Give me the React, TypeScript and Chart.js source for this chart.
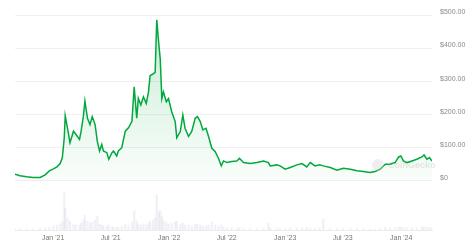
import React, { useEffect, useRef } from "react";
import { Chart, registerables } from "chart.js";

Chart.register(...registerables);

const priceDates: string[] = [
  "2020-09-03", "2020-09-19", "2020-10-10", "2020-10-30", "2020-11-21", "2020-12-07", "2020-12-20",
  "2021-01-02", "2021-01-13", "2021-01-23", "2021-01-30", "2021-02-05", "2021-02-08", "2021-02-15",
  "2021-02-23", "2021-03-06", "2021-03-14", "2021-03-25", "2021-03-30", "2021-04-06", "2021-04-11",
  "2021-04-19", "2021-04-27", "2021-05-04", "2021-05-13", "2021-05-20", "2021-05-27", "2021-06-03",
  "2021-06-08", "2021-06-19", "2021-06-25", "2021-07-05", "2021-07-10", "2021-07-20", "2021-07-25",
  "2021-08-05", "2021-08-16", "2021-08-26", "2021-09-06", "2021-09-13", "2021-09-21", "2021-09-26",
  "2021-10-04", "2021-10-12", "2021-10-21", "2021-10-28", "2021-11-02", "2021-11-11", "2021-11-18",
  "2021-11-23", "2021-11-30", "2021-12-04", "2021-12-09", "2021-12-14", "2021-12-23", "2021-12-30",
  "2022-01-09", "2022-01-20", "2022-01-25", "2022-02-05", "2022-02-13", "2022-02-20", "2022-03-03",
  "2022-03-13", "2022-03-24", "2022-03-31", "2022-04-09", "2022-04-17", "2022-04-27", "2022-05-05",
  "2022-05-15", "2022-05-26", "2022-06-05", "2022-06-14", "2022-06-21", "2022-07-02", "2022-07-17",
  "2022-08-02", "2022-08-10", "2022-08-23", "2022-09-13", "2022-10-04", "2022-10-25", "2022-11-09",
  "2022-11-15", "2022-12-06", "2022-12-16", "2023-01-01", "2023-01-17", "2023-02-07", "2023-02-23",
  "2023-03-10", "2023-03-21", "2023-04-05", "2023-04-19", "2023-05-01", "2023-05-23", "2023-06-13",
  "2023-07-03", "2023-07-25", "2023-08-15", "2023-09-04", "2023-09-25", "2023-10-11", "2023-10-27",
  "2023-11-12", "2023-11-27", "2023-12-13", "2023-12-24", "2023-12-31", "2024-01-08", "2024-01-19",
  "2024-02-04", "2024-02-19", "2024-03-06", "2024-03-13", "2024-03-22", "2024-03-30", "2024-04-07",
];

const prices: number[] = [
  20, 15, 12, 10, 10, 18, 30,
  36, 42, 52, 70, 130, 197, 160,
  115, 150, 140, 125, 150, 194, 241,
  189, 170, 194, 170, 119, 90, 110,
  90, 85, 65, 85, 90, 75, 90,
  100, 150, 160, 180, 284, 189, 249,
  229, 254, 234, 269, 318, 323, 328,
  487, 408, 368, 249, 269, 239, 249,
  209, 179, 130, 149, 199, 159, 134,
  149, 189, 194, 179, 154, 159, 134,
  99, 88, 68, 45, 60, 55, 58,
  60, 68, 55, 52, 55, 60, 55,
  45, 48, 45, 35, 40, 48, 52,
  42, 55, 45, 48, 45, 40, 32,
  38, 35, 30, 28, 25, 28, 35,
  50, 50, 55, 72, 75, 60, 55,
  60, 65, 72, 78, 65, 70, 60,
];

const volumes: number[] = [
  1, 1, 1, 1, 1.5, 2, 3,
  4, 5, 6, 9, 38, 22, 12,
  9, 6, 5, 5, 7, 10, 15,
  9, 7, 8, 10, 14, 6, 5,
  4, 4, 5, 3, 3, 3, 3,
  4, 6, 5, 8, 20, 9, 6,
  5, 6, 5, 7, 9, 10, 12,
  36, 18, 20, 14, 10, 8, 6,
  7, 8, 9, 6, 7, 5, 5,
  4, 6, 6, 5, 4, 4, 5,
  8, 5, 4, 5, 3, 2, 2,
  2, 2.5, 1.5, 1.5, 1.5, 1.5, 7,
  2, 1.5, 1.5, 1, 2, 2, 2,
  2.5, 2, 1.5, 2, 11, 1.5, 1.5,
  1.5, 1.5, 1.5, 1.5, 1, 1, 1.5,
  2.5, 2, 2.5, 3, 3, 2.5, 2,
  2, 2, 3, 3.5, 2.5, 2.5, 2,
];

const xTickDates: string[] = ["2021-01-01", "2021-07-01", "2022-01-01", "2022-07-01", "2023-01-01", "2023-07-01", "2024-01-01"];
const xTickLabels: string[] = ["Jan '21", "Jul '21", "Jan '22", "Jul '22", "Jan '23", "Jul '23", "Jan '24"];
const yTickValues: number[] = [0, 100, 200, 300, 400, 500];
const xRange: string[] = ["2020-09-03", "2024-04-07"];

const FONT = "'Liberation Sans', Arial, sans-serif";

const watermark = {
  id: "watermark",
  afterDatasetsDraw(chart: any) {
    const { ctx, chartArea } = chart;
    const cx = chartArea.right - 54;
    const cy = chartArea.bottom - 65;
    ctx.save();
    ctx.globalAlpha = 0.35;
    ctx.fillStyle = "#d0d0d0";
    ctx.beginPath();
    ctx.arc(cx, cy, 6, 0, Math.PI * 2);
    ctx.fill();
    ctx.fillStyle = "#bbbbbb";
    ctx.font = "bold 9px " + FONT;
    ctx.textBaseline = "middle";
    ctx.textAlign = "left";
    ctx.fillText("CoinGecko", cx + 10, cy + 1);
    ctx.restore();
  },
};

export default function App() {
  const ref = useRef<HTMLCanvasElement | null>(null);

  useEffect(() => {
    if (!ref.current) return;
    const xs = priceDates.map((d) => Date.parse(d));
    const chart = new Chart(ref.current, {
      type: "line",
      data: {
        datasets: [
          {
            type: "line",
            label: "Price",
            data: xs.map((x, i) => ({ x, y: prices[i] })),
            borderColor: "#00a83e",
            borderWidth: 1.5,
            pointRadius: 0,
            tension: 0,
            yAxisID: "y",
            fill: "origin",
            backgroundColor: (ctx: any) => {
              const { chart } = ctx;
              const area = chart.chartArea;
              if (!area) return "rgba(0,168,62,0.1)";
              const zero = chart.scales.y.getPixelForValue(0);
              const g = chart.ctx.createLinearGradient(0, area.top, 0, zero);
              g.addColorStop(0, "rgba(0,168,62,0.22)");
              g.addColorStop(1, "rgba(0,168,62,0.02)");
              return g;
            },
            order: 1,
          } as any,
          {
            type: "bar",
            label: "Volume",
            data: xs.map((x, i) => ({ x, y: volumes[i] })),
            backgroundColor: "rgba(200,206,222,0.28)",
            barThickness: 1.5,
            yAxisID: "yVol",
            order: 2,
          } as any,
        ],
      },
      options: {
        responsive: false,
        animation: false,
        layout: { padding: { left: 15, top: 9, right: 0, bottom: 0 } },
        plugins: { legend: { display: false }, tooltip: { enabled: false } },
        scales: {
          x: {
            type: "linear",
            offset: false,
            min: Date.parse(xRange[0]),
            max: Date.parse(xRange[1]),
            grid: { display: false, drawTicks: false, offset: false },
            border: { display: true, color: "#ececec" },
            afterBuildTicks: (scale: any) => {
              scale.ticks = xTickDates.map((d) => ({ value: Date.parse(d) }));
            },
            afterFit: (scale: any) => {
              scale.height = 19;
            },
            ticks: {
              autoSkip: false,
              maxRotation: 0,
              padding: 4,
              color: "#777",
              font: { size: 7, family: FONT },
              callback: (value: any) => {
                const idx = xTickDates.findIndex((d) => Date.parse(d) === value);
                return idx >= 0 ? xTickLabels[idx] : "";
              },
            },
          },
          y: {
            type: "linear",
            position: "right",
            min: -149,
            max: 510,
            grid: { color: "#f0f0f0", drawTicks: false },
            border: { display: false },
            afterBuildTicks: (scale: any) => {
              scale.ticks = yTickValues.map((v) => ({ value: v }));
            },
            afterFit: (scale: any) => {
              scale.width = 42;
            },
            ticks: {
              padding: 8,
              labelOffset: -3,
              color: "#888",
              font: { size: 7, family: FONT },
              callback: (value: any) => (value === 0 ? "$0" : "$" + Number(value).toFixed(2)),
            },
          },
          yVol: {
            type: "linear",
            position: "right",
            display: false,
            min: 0,
            max: 221,
          },
        },
      } as any,
      plugins: [watermark],
    });
    return () => chart.destroy();
  }, []);

  return (
    <div style={{ position: "fixed", left: 0, top: 0, width: 474, height: 249, background: "#fff" }}>
      <canvas ref={ref} width={474} height={249} style={{ display: "block" }} />
    </div>
  );
}
